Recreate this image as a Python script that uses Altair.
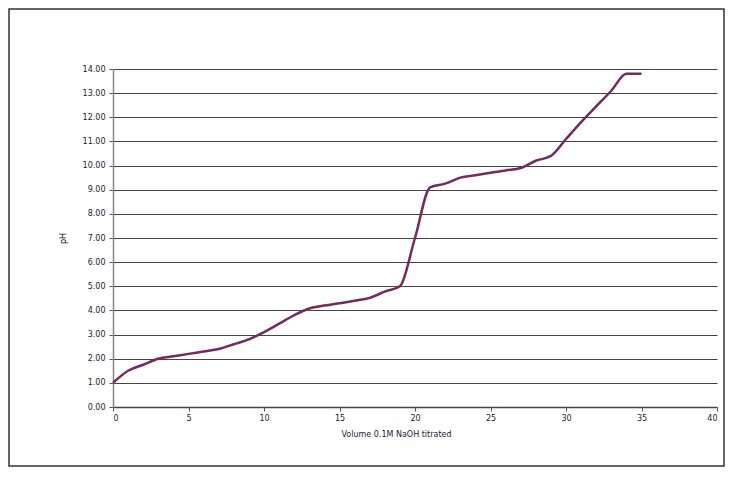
import altair as alt
import pandas as pd

volume = list(range(0, 36))
ph = [1.0, 1.5, 1.75, 2.0, 2.1, 2.2, 2.3, 2.4, 2.6, 2.8,
      3.1, 3.45, 3.8, 4.08, 4.2, 4.3, 4.4, 4.52, 4.78, 5.0,
      7.0, 9.1, 9.25, 9.5, 9.6, 9.7, 9.8, 9.9, 10.2, 10.4,
      11.1, 11.8, 12.45, 13.1, 13.8, 13.8]
x_ticks = [0, 5, 10, 15, 20, 25, 30, 35, 40]
y_ticks = list(range(0, 15))

df = pd.DataFrame({"v": volume, "ph": ph})

W, H = 604, 338
PL, PT, PR, PB = 105, 61, 8, 60

font = "DejaVu Sans"

line = alt.Chart(df).mark_line(
    color="#74295F", strokeWidth=2.5, interpolate="monotone"
).encode(
    x=alt.X("v:Q", scale=alt.Scale(domain=[0, 40], nice=False),
            axis=alt.Axis(values=x_ticks, grid=False, title="Volume 0.1M NaOH titrated",
                          tickSize=4, tickColor="#555", domainColor="#444", domainWidth=1.5,
                          labelPadding=3, labelFont=font, labelFontSize=8, labelColor="#1a1a33",
                          titleFont=font, titleFontSize=8, titleFontWeight="normal",
                          titleColor="#1a1a33", titleX=283, titleY=27, titleAlign="center",
                          titleBaseline="middle")),
    y=alt.Y("ph:Q", scale=alt.Scale(domain=[0, 14], nice=False),
            axis=alt.Axis(values=y_ticks, format=".2f", grid=True, gridColor="#444",
                          gridWidth=1.2, title="pH", tickSize=4, tickColor="#555",
                          domainColor="#888", domainWidth=1.5,
                          labelPadding=4, labelFont=font, labelFontSize=8, labelColor="#1a1a33",
                          titleFont=font, titleFontSize=8, titleFontWeight="normal",
                          titleColor="#1a1a33", titleX=-50, titleY=169, titleAngle=270,
                          titleAlign="center", titleBaseline="middle")),
)

frame = alt.Chart(pd.DataFrame({"a": [0]})).mark_rect(
    fill=None, stroke="#333", strokeWidth=1.5, clip=False
).encode(
    x=alt.value(-PL + 1), x2=alt.value(W + PR - 1),
    y=alt.value(-PT + 1), y2=alt.value(H + PB - 1),
)

chart = alt.layer(frame, line).properties(
    width=W, height=H,
    autosize=alt.AutoSizeParams(type="none"),
    padding={"left": PL, "top": PT, "right": PR, "bottom": PB},
    background="white",
).configure_view(stroke=None)

chart.save("out.html", embed_options={"renderer": "svg", "actions": False})
